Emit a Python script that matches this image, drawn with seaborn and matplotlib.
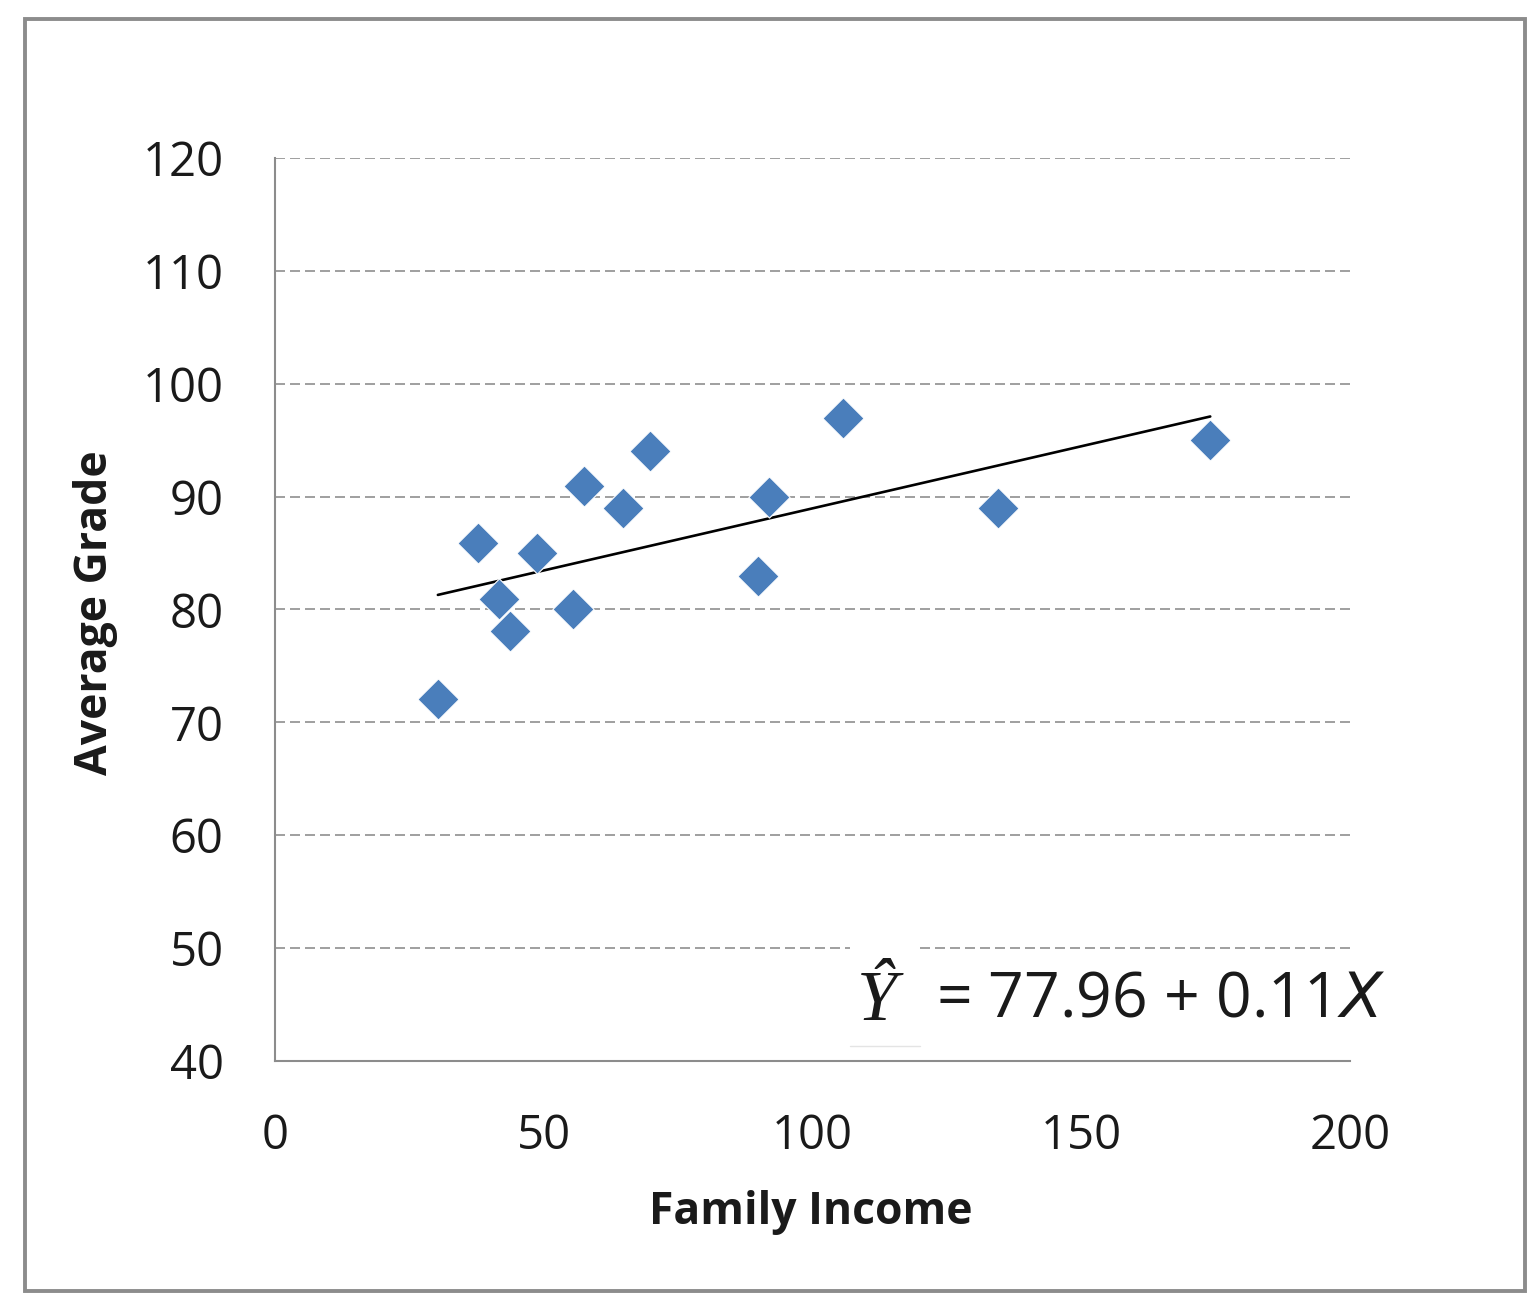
import matplotlib
matplotlib.use("Agg")
import matplotlib.pyplot as plt
from matplotlib.patches import Rectangle
import seaborn as sns
import pandas as pd

# values
family_income = [30.3, 37.8, 41.7, 43.7, 48.7, 55.4, 57.5, 64.7, 69.8, 89.9, 91.9, 105.7, 134.5, 174.0]
average_grade = [72.1, 85.9, 80.9, 78.1, 85.0, 80.0, 90.9, 89.0, 94.0, 83.0, 90.0, 97.0, 89.0, 95.0]
intercept = 77.96
slope = 0.11
x_ticks = [0, 50, 100, 150, 200]
y_ticks = [40, 50, 60, 70, 80, 90, 100, 110, 120]

df = pd.DataFrame({"Family Income": family_income, "Average Grade": average_grade})

sns.set_style("white")
plt.rcParams['font.family'] = ['Open Sans', 'DejaVu Sans']
plt.rcParams['mathtext.fontset'] = 'dejavusans'

W, H = 1536, 1315
fig = plt.figure(figsize=(W / 100, H / 100), dpi=100)
ax = fig.add_axes([275 / W, 1 - 1061 / H, 1075 / W, 903 / H])

# outer frame of the chart area
fig.patches.append(Rectangle((25 / W, 1 - 1291 / H), 1500 / W, 1272 / H,
                             transform=fig.transFigure, fill=False,
                             edgecolor="#8c8c8c", linewidth=2.8))

sns.scatterplot(data=df, x="Family Income", y="Average Grade", marker="D",
                s=440, color="#4a7ebb", edgecolor="white", linewidth=0.8,
                zorder=3, ax=ax)

# trend line from the fitted equation
x0, x1 = min(family_income), max(family_income)
ax.plot([x0, x1], [intercept + slope * x0, intercept + slope * x1],
        color="black", linewidth=1.9, zorder=2)

ax.set_xlim(0, 200)
ax.set_ylim(40, 120)
ax.set_xticks(x_ticks)
ax.set_yticks(y_ticks)
ax.tick_params(axis="both", length=0, labelsize=34, colors="#1a1a1a")
ax.tick_params(axis="y", pad=37)
ax.tick_params(axis="x", pad=37)

for y in y_ticks[1:]:
    ax.axhline(y, color="#8f8f8f", linewidth=1.2, linestyle=(0, (6, 3)), zorder=0.5)

for side in ["top", "right"]:
    ax.spines[side].set_visible(False)
for side in ["left", "bottom"]:
    ax.spines[side].set_color("#8c8c8c")
    ax.spines[side].set_linewidth(1.5)

ax.set_xlabel("Family Income", fontsize=32, fontweight="bold", color="#1a1a1a")
ax.set_ylabel("Average Grade", fontsize=32, fontweight="bold", color="#1a1a1a")
ax.xaxis.set_label_coords(0.498, -0.143)
ax.yaxis.set_label_coords(-0.146, 0.497)

# equation box
ax.add_patch(Rectangle((107, 41.2), 13, 9.5, facecolor="white", edgecolor="none", zorder=1))
ax.plot([107, 120], [41.3, 41.3], color="#e4e4e4", linewidth=1, zorder=1.1)
ax.text(112.0, 43.6, "Ŷ", fontsize=52, family=["Liberation Serif", "DejaVu Serif"],
        style="italic", ha="center", va="baseline", color="#1a1a1a", zorder=4)
ax.text(123.0, 43.9, r"= 77.96 + 0.11$X$", fontsize=45, ha="left", va="baseline",
        color="#1a1a1a", zorder=4)

fig.savefig("out.png", dpi=100)
